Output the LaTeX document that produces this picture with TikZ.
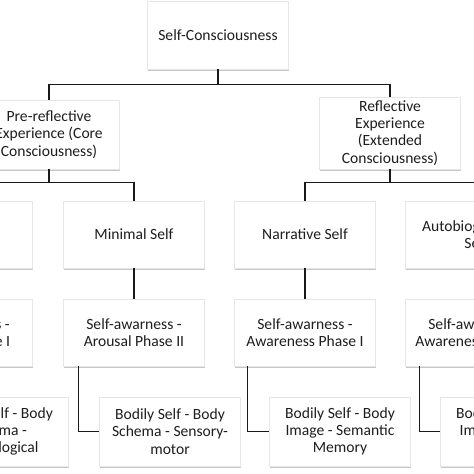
\documentclass[tikz,border=0pt]{standalone}
\usepackage{fontspec}
\setmainfont{Carlito}
\usetikzlibrary{shadows}
\definecolor{txt}{HTML}{1E1E1E}
\definecolor{edge}{HTML}{E6E6E6}
\tikzset{
  box/.style={rectangle, fill=white, draw=edge, line width=0.6pt,
    general shadow={fill=black!22, shadow xshift=0.6pt, shadow yshift=-1.6pt},
    minimum width=141pt, minimum height=67pt, inner sep=2pt,
    align=center, text=txt, font=\fontsize{15.6}{17.2}\selectfont},
  link/.style={draw=black!90, line width=1.2pt}
}
\begin{document}
\begin{tikzpicture}[x=1pt,y=-1pt]
\useasboundingbox (0,0) rectangle (474,474);
\clip (0,0) rectangle (474,474);
\fill[white] (0,0) rectangle (474,474);
% level 1
\node[box, minimum height=68pt] (top) at (218,35) {Self-Consciousness};
% level 2
\node[box, minimum height=69pt] (pre) at (49,134.5) {Pre-reflective\\Experience (Core\\Consciousness)};
\node[box, minimum height=72pt] (refl) at (390,133) {Reflective\\Experience\\(Extended\\Consciousness)};
% level 3
\node[box] (p3) at (-38,234.5) {};
\node[box] (m3) at (134,234.5) {Minimal Self};
\node[box] (n3) at (305,234.5) {Narrative Self};
\node[box] (a3) at (476,234.5) {Autobiographical\\Self};
% level 4
\node[box] (p4) at (-38,332.5) {Self-awarness -\\Arousal Phase I};
\node[box] (m4) at (134,332.5) {Self-awarness -\\Arousal Phase II};
\node[box] (n4) at (305,332.5) {Self-awarness -\\Awareness Phase I};
\node[box] (a4) at (476,332.5) {Self-awarness -\\Awareness Phase II};
% level 5
\node[box, minimum height=69pt] (p5) at (-2,431.5) {Bodily Self - Body\\Schema -\\Physiological};
\node[box, minimum height=69pt] (m5) at (170,431.5) {Bodily Self - Body\\Schema - Sensory-\\motor};
\node[box, minimum height=69pt] (n5) at (340,431.5) {Bodily Self - Body\\Image - Semantic\\Memory};
\node[box, minimum height=69pt] (a5) at (511,431.5) {Bodily Self - Body\\Image - Episodic\\Memory};
% connectors
\draw[link] (top.south) -- ++(0,15) -| (pre.north);
\draw[link] (top.south) -- ++(0,15) -| (refl.north);
\draw[link] (pre.south) -- ++(0,13) -| (p3.north);
\draw[link] (pre.south) -- ++(0,13) -| (m3.north);
\draw[link] (refl.south) -- ++(0,13) -| (n3.north);
\draw[link] (refl.south) -- ++(0,13) -| (a3.north);
\draw[link] (p3.south) -- (p4.north);
\draw[link] (m3.south) -- (m4.north);
\draw[link] (n3.south) -- (n4.north);
\draw[link] (a3.south) -- (a4.north);
\draw[link] ([xshift=15pt]p4.south west) |- (p5.west);
\draw[link] ([xshift=15pt]m4.south west) |- (m5.west);
\draw[link] ([xshift=13pt]n4.south west) |- (n5.west);
\draw[link] ([xshift=14pt]a4.south west) |- (a5.west);
\end{tikzpicture}
\end{document}
